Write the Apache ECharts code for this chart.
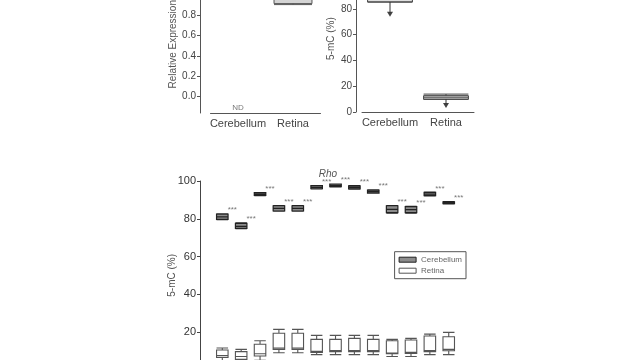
<!DOCTYPE html>
<html><head><meta charset="utf-8">
<script src="https://cdn.jsdelivr.net/npm/echarts@6/dist/echarts.min.js"></script>
<style>html,body{margin:0;padding:0;width:640px;height:360px;overflow:hidden;background:#fff}
#c{position:absolute;left:0;top:-40px;width:640px;height:460px}</style>
</head><body><div id="c"></div><script>
// ---- data ----
const tissues = ['Cerebellum', 'Retina'];
// Relative expression (Retina only; Cerebellum not detected)
const exprCerebellum = ['-', '-', '-', '-', '-'];
const exprRetina = [0.91, 0.92, 1.0, 1.06, 1.1];
const ndLabel = 'ND';
const ndValue = -0.12;
// Global 5-mC (%) [min, Q1, median, Q3, max]
const globalCerebellum = [85.4, 85.4, 90, 95, 98];
const globalRetina = [9.9, 9.9, 11.5, 12.7, 13.9];
const globalLowWhisker = [77, 6];
const globalOutliers = [76, 5];
// Rho CpG sites
const cpgSites = ['1','2','3','4','5','6','7','8','9','10','11','12','13'];
const rhoCerebellum = [
  [79.5, 79.7, 81, 82.4, 82.6],
  [74.7, 74.9, 76, 77.6, 77.8],
  [92.3, 92.4, 93, 93.8, 93.9],
  [84, 84.1, 85.5, 86.9, 87],
  [84, 84.1, 85.5, 86.9, 87],
  [95.8, 95.9, 96.6, 97.5, 97.6],
  [96.9, 97, 97.6, 98.3, 98.4],
  [95.7, 95.8, 96.6, 97.4, 97.5],
  [93.5, 93.6, 94.4, 95.2, 95.3],
  [83, 83.2, 85, 86.9, 87],
  [83, 83.2, 84.8, 86.4, 86.6],
  [92.1, 92.2, 93, 94, 94.1],
  [87.9, 88, 88.5, 89, 89.1]
];
const rhoRetina = [
  [4, 6.5, 7.5, 10.5, 11.5],
  [3, 5.5, 7, 9.6, 10.8],
  [5, 7.3, 8.5, 13.5, 15.4],
  [9, 10.8, 11.5, 19.3, 21.4],
  [9, 10.8, 11.5, 19.3, 21.4],
  [8, 9.2, 9.8, 16.1, 18.2],
  [8, 9.6, 10.2, 16.1, 18.2],
  [8, 9.6, 10.2, 16.6, 18.2],
  [8, 9.6, 10.2, 16.1, 18.2],
  [7, 8.5, 8.8, 15.4, 16.1],
  [7, 8.7, 9.2, 15.8, 16.6],
  [8, 9.6, 10.2, 17.9, 18.9],
  [8, 10.1, 10.8, 17.5, 19.8]
];
const sigMarks = ['***','***','***','***','***','***','***','***','***','***','***','***','***'];
const exprTicks = [0, 0.2, 0.4, 0.6, 0.8, 1.0, 1.2];
const pctTicks = [0, 20, 40, 60, 80, 100];

// ---- chart ----
const FONT = 'Liberation Sans';
const chart = echarts.init(document.getElementById('c'), null, { renderer: 'canvas' });

function catAxis(gi, data) {
  return {
    gridIndex: gi, type: 'category', data: data,
    axisLine: { onZero: false, lineStyle: { color: '#555', width: 1 } },
    axisTick: { alignWithLabel: true, length: 2, lineStyle: { color: '#555' } },
    axisLabel: { interval: 0, hideOverlap: false, fontSize: 11, color: '#444', margin: 5, fontFamily: FONT },
    splitLine: { show: false }
  };
}

// whisker segments Q1 -> low end for global 5-mC panel
const whiskerData = [];
[globalCerebellum, globalRetina].forEach((d, i) => {
  if (i > 0) whiskerData.push('-');
  whiskerData.push([i, d[1]], [i, globalLowWhisker[i]]);
});

chart.setOption({
  animation: false,
  backgroundColor: '#fff',
  textStyle: { fontFamily: FONT },
  title: {
    text: 'Rho', left: 323, top: 204, textAlign: 'center',
    textStyle: { fontStyle: 'italic', fontSize: 10, fontWeight: 'normal', color: '#555', fontFamily: FONT }
  },
  legend: {
    data: [
      { name: 'Cerebellum', icon: 'rect', itemStyle: { color: '#8c8c8c', borderColor: '#222', borderWidth: 1 } },
      { name: 'Retina', icon: 'rect', itemStyle: { color: '#fff', borderColor: '#555', borderWidth: 1 } }
    ],
    orient: 'vertical', right: 174, top: 291.7,
    borderColor: '#555', borderWidth: 1, padding: [4, 4],
    itemGap: 3, itemWidth: 17, itemHeight: 5,
    textStyle: { fontSize: 8, color: '#666', fontFamily: FONT }
  },
  grid: [
    { left: 210.5, top: 15.5, width: 110, height: 137.5 },
    { left: 362, top: 5.2, width: 112, height: 146.8 },
    { left: 212.87, top: 221, width: 245.3, height: 188.75 }
  ],
  xAxis: [
    catAxis(0, tissues),
    catAxis(1, tissues),
    { gridIndex: 2, type: 'category', data: cpgSites,
      axisLine: { onZero: false, lineStyle: { color: '#555' } },
      axisTick: { show: false }, axisLabel: { show: false } },
    { gridIndex: 2, type: 'category', data: cpgSites, show: false }
  ],
  yAxis: [
    {
      gridIndex: 0, type: 'value', min: -0.17, max: 1.2, offset: 10.5,
      axisLine: { show: true, lineStyle: { color: '#555' } },
      axisTick: { show: true, length: 3, customValues: exprTicks, lineStyle: { color: '#555' } },
      axisLabel: { customValues: exprTicks, formatter: v => v.toFixed(1), fontSize: 10, color: '#444', margin: 4, fontFamily: FONT },
      splitLine: { show: false },
      name: 'Relative Expression', nameLocation: 'middle', nameGap: 22, nameMoveOverlap: false,
      nameTextStyle: { fontSize: 10, color: '#555', fontFamily: FONT }
    },
    {
      gridIndex: 1, type: 'value', min: 0, max: 114, offset: 6,
      axisLine: { show: true, lineStyle: { color: '#555' } },
      axisTick: { show: true, length: 3, customValues: pctTicks, lineStyle: { color: '#555' } },
      axisLabel: { customValues: pctTicks, fontSize: 10, color: '#444', margin: 4, fontFamily: FONT },
      splitLine: { show: false },
      name: '5-mC (%)', nameLocation: 'middle', nameGap: 20, nameMoveOverlap: false,
      nameTextStyle: { fontSize: 10, color: '#555', fontFamily: FONT }
    },
    {
      gridIndex: 2, type: 'value', min: 0, max: 100, interval: 20, offset: 12.87,
      axisLine: { show: true, lineStyle: { color: '#444' } },
      axisTick: { show: true, length: 3, lineStyle: { color: '#444' } },
      axisLabel: { fontSize: 11, color: '#333', margin: 4, fontFamily: FONT },
      splitLine: { show: false },
      name: '5-mC (%)', nameLocation: 'middle', nameGap: 23, nameMoveOverlap: false,
      nameTextStyle: { fontSize: 10, color: '#555', fontFamily: FONT }
    }
  ],
  series: [
    {
      name: 'Expression', type: 'boxplot', xAxisIndex: 0, yAxisIndex: 0,
      boxWidth: ['69%', '69%'],
      itemStyle: { color: '#d4d4d4', borderColor: '#555', borderWidth: 1 },
      data: [exprCerebellum, exprRetina]
    },
    {
      name: 'ND', type: 'scatter', xAxisIndex: 0, yAxisIndex: 0, symbolSize: 0,
      data: [[0, ndValue]],
      label: { show: true, position: 'inside', formatter: ndLabel, fontSize: 8, color: '#555', fontFamily: FONT }
    },
    {
      name: 'Global', type: 'boxplot', xAxisIndex: 1, yAxisIndex: 1,
      boxWidth: ['80%', '80%'],
      itemStyle: { color: '#e0e0e0', borderColor: '#444', borderWidth: 1 },
      data: [globalCerebellum, globalRetina]
    },
    {
      name: 'Whisker', type: 'line', xAxisIndex: 1, yAxisIndex: 1,
      symbol: 'none', connectNulls: false,
      lineStyle: { color: '#333', width: 1 },
      data: whiskerData
    },
    {
      name: 'Outliers', type: 'scatter', xAxisIndex: 1, yAxisIndex: 1,
      symbol: 'triangle', symbolRotate: 180, symbolSize: [6, 5],
      itemStyle: { color: '#111' },
      data: globalOutliers.map((v, i) => [i, v])
    },
    {
      name: 'Cerebellum', type: 'boxplot', xAxisIndex: 2, yAxisIndex: 2,
      boxWidth: ['61%', '61%'],
      itemStyle: { color: '#8c8c8c', borderColor: '#222', borderWidth: 1.2 },
      data: rhoCerebellum
    },
    {
      name: 'Retina', type: 'boxplot', xAxisIndex: 3, yAxisIndex: 2,
      boxWidth: ['61%', '61%'],
      itemStyle: { color: '#fff', borderColor: '#555', borderWidth: 1.1 },
      data: rhoRetina
    },
    {
      name: 'Significance', type: 'scatter', xAxisIndex: 2, yAxisIndex: 2, symbolSize: 0,
      data: rhoCerebellum.map((d, i) => [i, d[3]]),
      label: { show: true, position: 'top', offset: [10, 5],
        formatter: p => sigMarks[p.dataIndex], fontSize: 8, color: '#555', fontFamily: FONT }
    }
  ]
});
</script></body></html>
